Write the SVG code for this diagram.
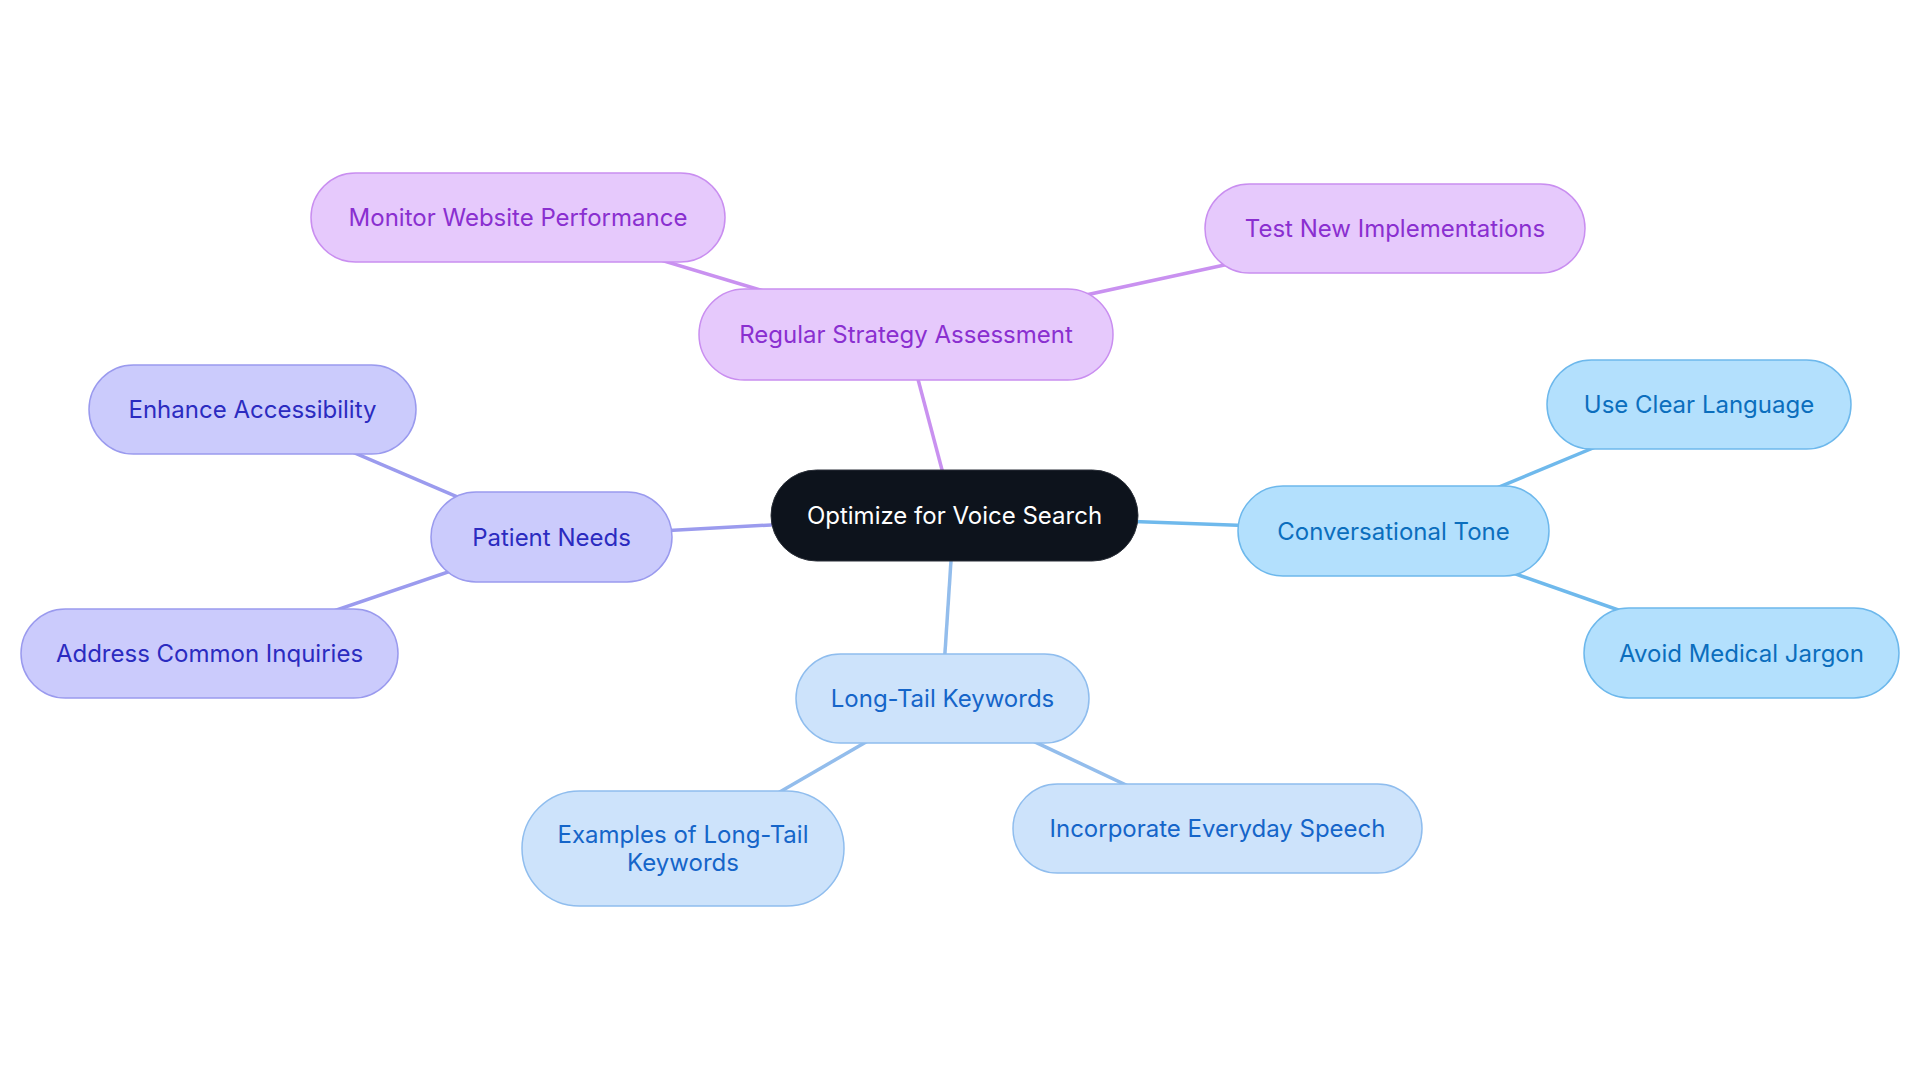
<svg xmlns="http://www.w3.org/2000/svg" width="1920" height="1083" viewBox="0 0 1920 1083">
<style>
text{font-family:Inter,"Noto Sans",sans-serif;font-size:24px;text-anchor:middle;dominant-baseline:central}
.p rect{fill:#e6c9fc;stroke:#c98ef0;stroke-width:1.5}.p text{fill:#8a2fd0}
.b rect{fill:#b3e0fd;stroke:#6db8ec;stroke-width:1.5}.b text{fill:#0b6ebd}
.i rect{fill:#cbcbfc;stroke:#9a9aee;stroke-width:1.5}.i text{fill:#2b2bc0}
.l rect{fill:#cde3fb;stroke:#8fbdee;stroke-width:1.5}.l text{fill:#1565c9}
#edges line{stroke-width:3.5;fill:none}
</style>
<rect width="1920" height="1083" fill="#fff"/>
<g id="edges">
<line x1="954" y1="515" x2="906" y2="334" stroke="#c991f0"/>
<line x1="906" y1="334" x2="518" y2="217" stroke="#c991f0"/>
<line x1="906" y1="334" x2="1395" y2="228" stroke="#c991f0"/>
<line x1="954" y1="515" x2="1393" y2="531" stroke="#6fb9ec"/>
<line x1="1393" y1="531" x2="1699" y2="404" stroke="#6fb9ec"/>
<line x1="1393" y1="531" x2="1741" y2="653" stroke="#6fb9ec"/>
<line x1="954" y1="515" x2="551" y2="537" stroke="#9b9bee"/>
<line x1="551" y1="537" x2="252" y2="409" stroke="#9b9bee"/>
<line x1="551" y1="537" x2="210" y2="653" stroke="#9b9bee"/>
<line x1="954" y1="515" x2="942" y2="698" stroke="#93bdec"/>
<line x1="942" y1="698" x2="683" y2="848" stroke="#93bdec"/>
<line x1="942" y1="698" x2="1217" y2="828" stroke="#93bdec"/>
</g>
<g id="center"><rect x="771" y="470" width="367" height="91" rx="45.5" fill="#0d131c" stroke="#2a2f38"/><text x="954.5" y="515.5" fill="#fff">Optimize for Voice Search</text></g>
<g id="n-rsa" class="p"><rect x="699" y="289" width="414" height="91" rx="45.5"/><text x="906" y="334.5">Regular Strategy Assessment</text></g>
<g id="n-mwp" class="p"><rect x="311" y="173" width="414" height="89" rx="44.5"/><text x="518" y="217.5">Monitor Website Performance</text></g>
<g id="n-tni" class="p"><rect x="1205" y="184" width="380" height="89" rx="44.5"/><text x="1395" y="228.5">Test New Implementations</text></g>
<g id="n-ct" class="b"><rect x="1238" y="486" width="311" height="90" rx="45"/><text x="1393.5" y="531">Conversational Tone</text></g>
<g id="n-ucl" class="b"><rect x="1547" y="360" width="304" height="89" rx="44.5"/><text x="1699" y="404.5">Use Clear Language</text></g>
<g id="n-amj" class="b"><rect x="1584" y="608" width="315" height="90" rx="45"/><text x="1741.5" y="653">Avoid Medical Jargon</text></g>
<g id="n-pn" class="i"><rect x="431" y="492" width="241" height="90" rx="45"/><text x="551.5" y="537">Patient Needs</text></g>
<g id="n-ea" class="i"><rect x="89" y="365" width="327" height="89" rx="44.5"/><text x="252.5" y="409.5">Enhance Accessibility</text></g>
<g id="n-aci" class="i"><rect x="21" y="609" width="377" height="89" rx="44.5"/><text x="209.5" y="653.5">Address Common Inquiries</text></g>
<g id="n-ltk" class="l"><rect x="796" y="654" width="293" height="89" rx="44.5"/><text x="942.5" y="698.5">Long-Tail Keywords</text></g>
<g id="n-ex" class="l"><rect x="522" y="791" width="322" height="115" rx="57.5"/><text x="683" y="834">Examples of Long-Tail</text><text x="683" y="862">Keywords</text></g>
<g id="n-ies" class="l"><rect x="1013" y="784" width="409" height="89" rx="44.5"/><text x="1217.5" y="828.5">Incorporate Everyday Speech</text></g>
</svg>
